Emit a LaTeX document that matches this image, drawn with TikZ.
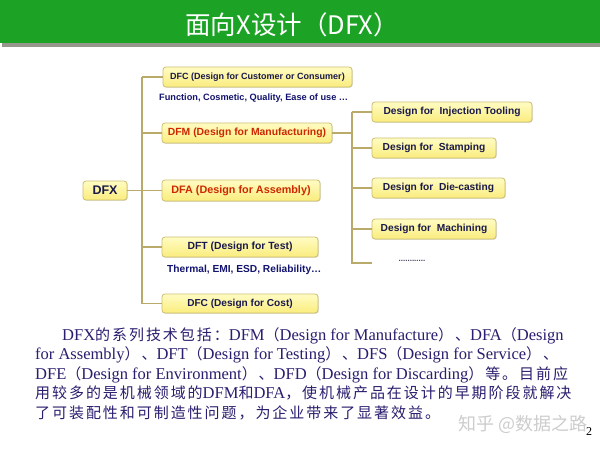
\documentclass[tikz,border=0pt]{standalone}
\usepackage{fontspec}
\setmainfont{Liberation Serif}
\setsansfont{Liberation Sans}
\newfontfamily\cjk{Noto Sans CJK SC}
\newfontfamily\cjkp[LetterSpace=13]{Noto Sans CJK SC}
\newcommand{\zh}[1]{{\cjkp\fontsize{15}{15}\selectfont #1}}
\usetikzlibrary{shadows}
\definecolor{barg}{RGB}{28,163,38}
\definecolor{barshadow}{RGB}{150,150,140}
\definecolor{boxtop}{RGB}{255,252,195}
\definecolor{boxbot}{RGB}{250,236,125}
\definecolor{boxborder}{RGB}{205,190,110}
\definecolor{linecol}{RGB}{185,170,105}
\definecolor{navy}{RGB}{25,25,75}
\definecolor{redtxt}{RGB}{205,40,0}
\definecolor{paracol}{RGB}{42,30,110}
\definecolor{wm}{RGB}{205,205,205}
\tikzset{
  box/.style={draw=boxborder, line width=0.8pt, rounded corners=3pt,
    top color=boxtop, bottom color=boxbot, inner sep=0pt,
    font=\sffamily\bfseries, text=navy,
    drop shadow={shadow xshift=0.8pt, shadow yshift=-0.8pt, opacity=0.25}},
  conn/.style={draw=linecol, line width=1.1pt},
  note/.style={font=\sffamily\bfseries\fontsize{9.2}{9.2}\selectfont, text=navy!80!blue, inner sep=0pt},
  para/.style={font=\fontsize{16.5}{16.5}\selectfont, text=paracol, inner sep=0pt, anchor=base west}
}
\begin{document}
\begin{tikzpicture}[x=1pt,y=-1pt]
\useasboundingbox (0,0) rectangle (600,450);
\fill[white] (0,0) rectangle (600,450);
% title bar
\fill[barshadow] (2,40) rectangle (600,47);
\fill[barg] (0,0) rectangle (600,43);
\node[text=white, font=\cjk\fontsize{25.5}{25.5}\selectfont, inner sep=0pt] (title) at (292,25) {面向X设计（DFX）};

% left tree
\node[box, minimum width=44pt, minimum height=19pt, font=\sffamily\bfseries\fontsize{12.5}{12.5}\selectfont] (dfx) at (105,190.5) {DFX};
\node[box, minimum width=189pt, minimum height=20pt, font=\sffamily\bfseries\fontsize{9}{9}\selectfont] (dfc1) at (257.5,77) {DFC (Design for Customer or Consumer)};
\node[note, anchor=west] (func) at (159,98) {Function, Cosmetic, Quality, Ease of use \ldots};
\node[box, minimum width=170pt, minimum height=20pt, text=redtxt, font=\sffamily\bfseries\fontsize{10.4}{10.4}\selectfont] (dfm) at (247,133) {DFM (Design for Manufacturing)};
\node[box, minimum width=158pt, minimum height=21pt, text=redtxt, font=\sffamily\bfseries\fontsize{10.8}{10.8}\selectfont] (dfa) at (241,190.5) {DFA (Design for Assembly)};
\node[box, minimum width=156pt, minimum height=20pt, font=\sffamily\bfseries\fontsize{10.4}{10.4}\selectfont] (dft) at (240,247) {DFT (Design for Test)};
\node[note, anchor=west, font=\sffamily\bfseries\fontsize{10.2}{10.2}\selectfont] (therm) at (167,270) {Thermal, EMI, ESD, Reliability\ldots};
\node[box, minimum width=156pt, minimum height=19pt, font=\sffamily\bfseries\fontsize{10.1}{10.1}\selectfont] (dfc2) at (240,303.5) {DFC (Design for Cost)};

\coordinate (t1) at (142,77);
\coordinate (t2) at (142,303.5);
\draw[conn] (t1) -- (t2);
\draw[conn] (dfx.east) -- (dfx.east -| t1);
\foreach \n in {dfc1,dfm,dfa,dft,dfc2} \draw[conn] (\n.west) -- (\n.west -| t1);

% right tree
\node[box, minimum width=160pt, minimum height=20pt, font=\sffamily\bfseries\fontsize{10.2}{10.2}\selectfont] (inj) at (452,112) {Design for\ \ Injection Tooling};
\node[box, minimum width=124pt, minimum height=20pt, font=\sffamily\bfseries\fontsize{10.2}{10.2}\selectfont] (stamp) at (434,148) {Design for\ \ Stamping};
\node[box, minimum width=133pt, minimum height=20pt, font=\sffamily\bfseries\fontsize{10.2}{10.2}\selectfont] (die) at (438.5,188) {Design for\ \ Die-casting};
\node[box, minimum width=124pt, minimum height=20pt, font=\sffamily\bfseries\fontsize{10.2}{10.2}\selectfont] (mach) at (434,229) {Design for\ \ Machining};
\node[note, text=navy!60!gray, font=\sffamily\bfseries\fontsize{8}{8}\selectfont] (dots) at (412,261) {............};

\coordinate (r1) at (352,112);
\coordinate (r2) at (352,263);
\coordinate (rend) at (372,263);
\draw[conn] (r1) -- (r2) -- (rend);
\draw[conn] (dfm.east) -- (dfm.east -| r1);
\foreach \n in {inj,stamp,die,mach} \draw[conn] (\n.west) -- (\n.west -| r1);

% paragraph
\node[para] (p1) at (62,340) {DFX\zh{的系列技术包括：}DFM\zh{（}Design for Manufacture\zh{）、}DFA\zh{（}Design};
\node[para] (p2) at (35,359.5) {for Assembly\zh{）、}DFT\zh{（}Design for Testing\zh{）、}DFS\zh{（}Design for Service\zh{）、}};
\node[para] (p3) at (35,379) {DFE\zh{（}Design for Environment\zh{）、}DFD\zh{（}Design for Discarding\zh{）等。目前应}};
\node[para] (p4) at (35,398.5) {\zh{用较多的是机械领域的}DFM\zh{和}DFA\zh{，使机械产品在设计的早期阶段就解决}};
\node[para] (p5) at (35,418) {\zh{了可装配性和可制造性问题，为企业带来了显著效益。}};

% watermark and page number
\node[anchor=base west, inner sep=0pt, text=wm, font=\cjk\fontsize{18}{18}\selectfont] (wmark) at (458,430) {知乎 @数据之路};
\node[anchor=base west, inner sep=0pt, font=\fontsize{12}{12}\selectfont] (pnum) at (586,435) {2};
\end{tikzpicture}
\end{document}
